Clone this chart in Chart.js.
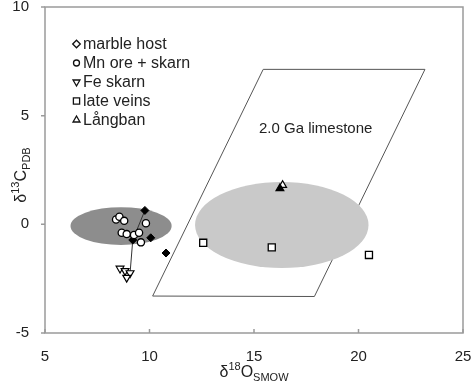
<!DOCTYPE html>
<html>
<head>
<meta charset="utf-8">
<script src="https://cdn.jsdelivr.net/npm/chart.js@4"></script>
<style>
  body { margin: 0; background: #fff; }
  #wrap { width: 474px; height: 386px; }
</style>
</head>
<body>
<div id="wrap"><canvas id="isoChart"></canvas></div>
<script>
// d18O (SMOW), d13C (PDB)
const marbleHost = [[9.78, 0.64], [10.06, -0.62], [10.79, -1.32], [9.20, -0.72]];
const mnOreSkarn = [[8.40, 0.22], [8.56, 0.35], [8.79, 0.16], [9.83, 0.05], [8.67, -0.39],
                    [8.91, -0.45], [9.26, -0.49], [9.50, -0.39], [9.59, -0.83]];
const feSkarn = [[8.59, -2.03], [8.83, -2.14], [9.07, -2.24], [8.91, -2.45]];
const lateVeins = [[12.57, -0.85], [15.85, -1.06], [20.50, -1.41]];
const langban = [[16.37, 1.80], [16.24, 1.65]];
const tieLine = [[9.78, 0.64], [9.20, -0.72], [9.07, -2.24]];
const limestoneBox = [[10.15, -3.30], [15.44, 7.13], [23.18, 7.13], [17.89, -3.32], [10.15, -3.30]];
// fields: centre x, centre y, half-width, half-height
const hostField = [8.64, -0.08, 2.42, 0.87];
const limestoneField = [16.33, -0.03, 4.15, 1.98];
const xTicks = [5, 10, 15, 20, 25];
const yTicks = [-5, 0, 5, 10];
const legendNames = ['marble host', 'Mn ore + skarn', 'Fe skarn', 'late veins', 'Långban'];

const FONT = '"Liberation Sans", Arial, sans-serif';
const toPts = arr => arr.map(p => ({ x: p[0], y: p[1] }));

const fieldsPlugin = {
  id: 'fields',
  afterDatasetDraw(chart, args) {
    if (args.meta.label !== 'limestone') return;
    const ctx = chart.ctx;
    const xs = chart.scales.x, ys = chart.scales.y;
    [[hostField, '#8d8d8d'], [limestoneField, '#c9c9c9']].forEach(([f, col]) => {
      const cx = xs.getPixelForValue(f[0]);
      const cy = ys.getPixelForValue(f[1]);
      const rx = Math.abs(xs.getPixelForValue(f[0] + f[2]) - cx);
      const ry = Math.abs(ys.getPixelForValue(f[1] + f[3]) - cy);
      ctx.save();
      ctx.fillStyle = col;
      ctx.beginPath();
      ctx.ellipse(cx, cy, rx, ry, 0, 0, Math.PI * 2);
      ctx.fill();
      ctx.restore();
    });
  }
};

const framePlugin = {
  id: 'frame',
  afterDraw(chart) {
    const ctx = chart.ctx, a = chart.chartArea;
    const xs = chart.scales.x, ys = chart.scales.y;
    ctx.save();
    ctx.strokeStyle = '#9a9a9a';
    ctx.lineWidth = 1.5;
    ctx.strokeRect(a.left, a.top, a.right - a.left, a.bottom - a.top);
    ctx.beginPath();
    xTicks.forEach(v => {
      const px = xs.getPixelForValue(v);
      ctx.moveTo(px, a.bottom); ctx.lineTo(px, a.bottom - 4);
    });
    yTicks.forEach(v => {
      const py = ys.getPixelForValue(v);
      ctx.moveTo(a.left, py); ctx.lineTo(a.left - 4, py);
    });
    ctx.stroke();

    // legend
    ctx.font = '16px ' + FONT;
    ctx.textBaseline = 'middle';
    const styles = ['rectRot', 'circle', 'triangle', 'rect', 'triangle'];
    const rots = [0, 0, 180, 0, 0];
    const radii = [3.8, 3, 4, 4.4, 4];
    legendNames.forEach((name, i) => {
      const y = 44 + i * 19;
      ctx.strokeStyle = '#111';
      ctx.fillStyle = '#fff';
      ctx.lineWidth = 1.3;
      Chart.helpers.drawPoint(ctx, { pointStyle: styles[i], rotation: rots[i], radius: radii[i], borderWidth: 1.3 }, 76.5, y);
      ctx.fillStyle = '#222';
      ctx.fillText(name, 83, y + 1);
    });

    ctx.font = '15px ' + FONT;
    ctx.fillText('2.0 Ga limestone', 259, 129);

    // axis titles
    const piece = (txt, size, dy) => ({ txt, size, dy });
    const drawTitle = (parts, cx, base) => {
      let w = 0;
      parts.forEach(p => { ctx.font = p.size + 'px ' + FONT; p.w = ctx.measureText(p.txt).width; w += p.w; });
      let x = cx - w / 2;
      ctx.textBaseline = 'alphabetic';
      parts.forEach(p => {
        ctx.font = p.size + 'px ' + FONT;
        ctx.fillText(p.txt, x, base + p.dy);
        x += p.w;
      });
    };
    ctx.fillStyle = '#222';
    drawTitle([piece('δ', 16, 0), piece('18', 11, -7), piece('O', 16, 0), piece('SMOW', 11, 4)],
      (a.left + a.right) / 2, 377);
    ctx.save();
    ctx.translate(26, 175);
    ctx.rotate(-Math.PI / 2);
    drawTitle([piece('δ', 16, 0), piece('13', 11, -7), piece('C', 16, 0), piece('PDB', 11, 4)], 0, 0);
    ctx.restore();
    ctx.restore();
  }
};

new Chart(document.getElementById('isoChart'), {
  type: 'scatter',
  data: {
    datasets: [
      {
        label: 'Långban',
        data: toPts(langban),
        pointStyle: 'triangle',
        pointRadius: 4.5,
        pointBackgroundColor: ['#fff', '#000'],
        pointBorderColor: '#000',
        pointBorderWidth: 1.2
      },
      {
        label: 'late veins',
        data: toPts(lateVeins),
        pointStyle: 'rect',
        pointRadius: 5,
        pointBackgroundColor: '#fff',
        pointBorderColor: '#000',
        pointBorderWidth: 1.3
      },
      {
        label: 'Mn ore + skarn',
        data: toPts(mnOreSkarn),
        pointStyle: 'circle',
        pointRadius: 3.6,
        pointBackgroundColor: '#fff',
        pointBorderColor: '#000',
        pointBorderWidth: 1.3
      },
      {
        label: 'Fe skarn',
        data: toPts(feSkarn),
        pointStyle: 'triangle',
        rotation: 180,
        pointRadius: 4.5,
        pointBackgroundColor: '#fff',
        pointBorderColor: '#000',
        pointBorderWidth: 1.2
      },
      {
        label: 'marble host',
        data: toPts(marbleHost),
        pointStyle: 'rectRot',
        pointRadius: 4,
        pointBackgroundColor: '#000',
        pointBorderColor: '#000',
        pointBorderWidth: 1
      },
      {
        label: 'tie',
        data: toPts(tieLine),
        showLine: true,
        borderColor: '#333',
        borderWidth: 1,
        pointRadius: 0
      },
      {
        label: 'limestone',
        data: toPts(limestoneBox),
        showLine: true,
        borderColor: '#555',
        borderWidth: 1,
        pointRadius: 0,
        order: 10
      }
    ]
  },
  options: {
    responsive: true,
    maintainAspectRatio: false,
    animation: false,
    layout: { padding: { top: 7, right: 11, left: 0, bottom: 0 } },
    plugins: { legend: { display: false }, tooltip: { enabled: false } },
    scales: {
      x: {
        min: 5, max: 25,
        afterBuildTicks: s => { s.ticks = xTicks.map(v => ({ value: v })); },
        afterFit: s => { s.height = 53; s.paddingLeft = 0; s.paddingRight = 0; },
        grid: { display: false },
        border: { display: false },
        ticks: { color: '#222', font: { size: 15, family: FONT }, padding: 7, maxRotation: 0 }
      },
      y: {
        min: -5, max: 10,
        afterBuildTicks: s => { s.ticks = yTicks.map(v => ({ value: v })); },
        afterFit: s => { s.width = 45; s.paddingTop = 0; s.paddingBottom = 0; },
        grid: { display: false },
        border: { display: false },
        ticks: { color: '#222', font: { size: 15, family: FONT }, padding: 8 }
      }
    }
  },
  plugins: [fieldsPlugin, framePlugin]
});
</script>
</body>
</html>
